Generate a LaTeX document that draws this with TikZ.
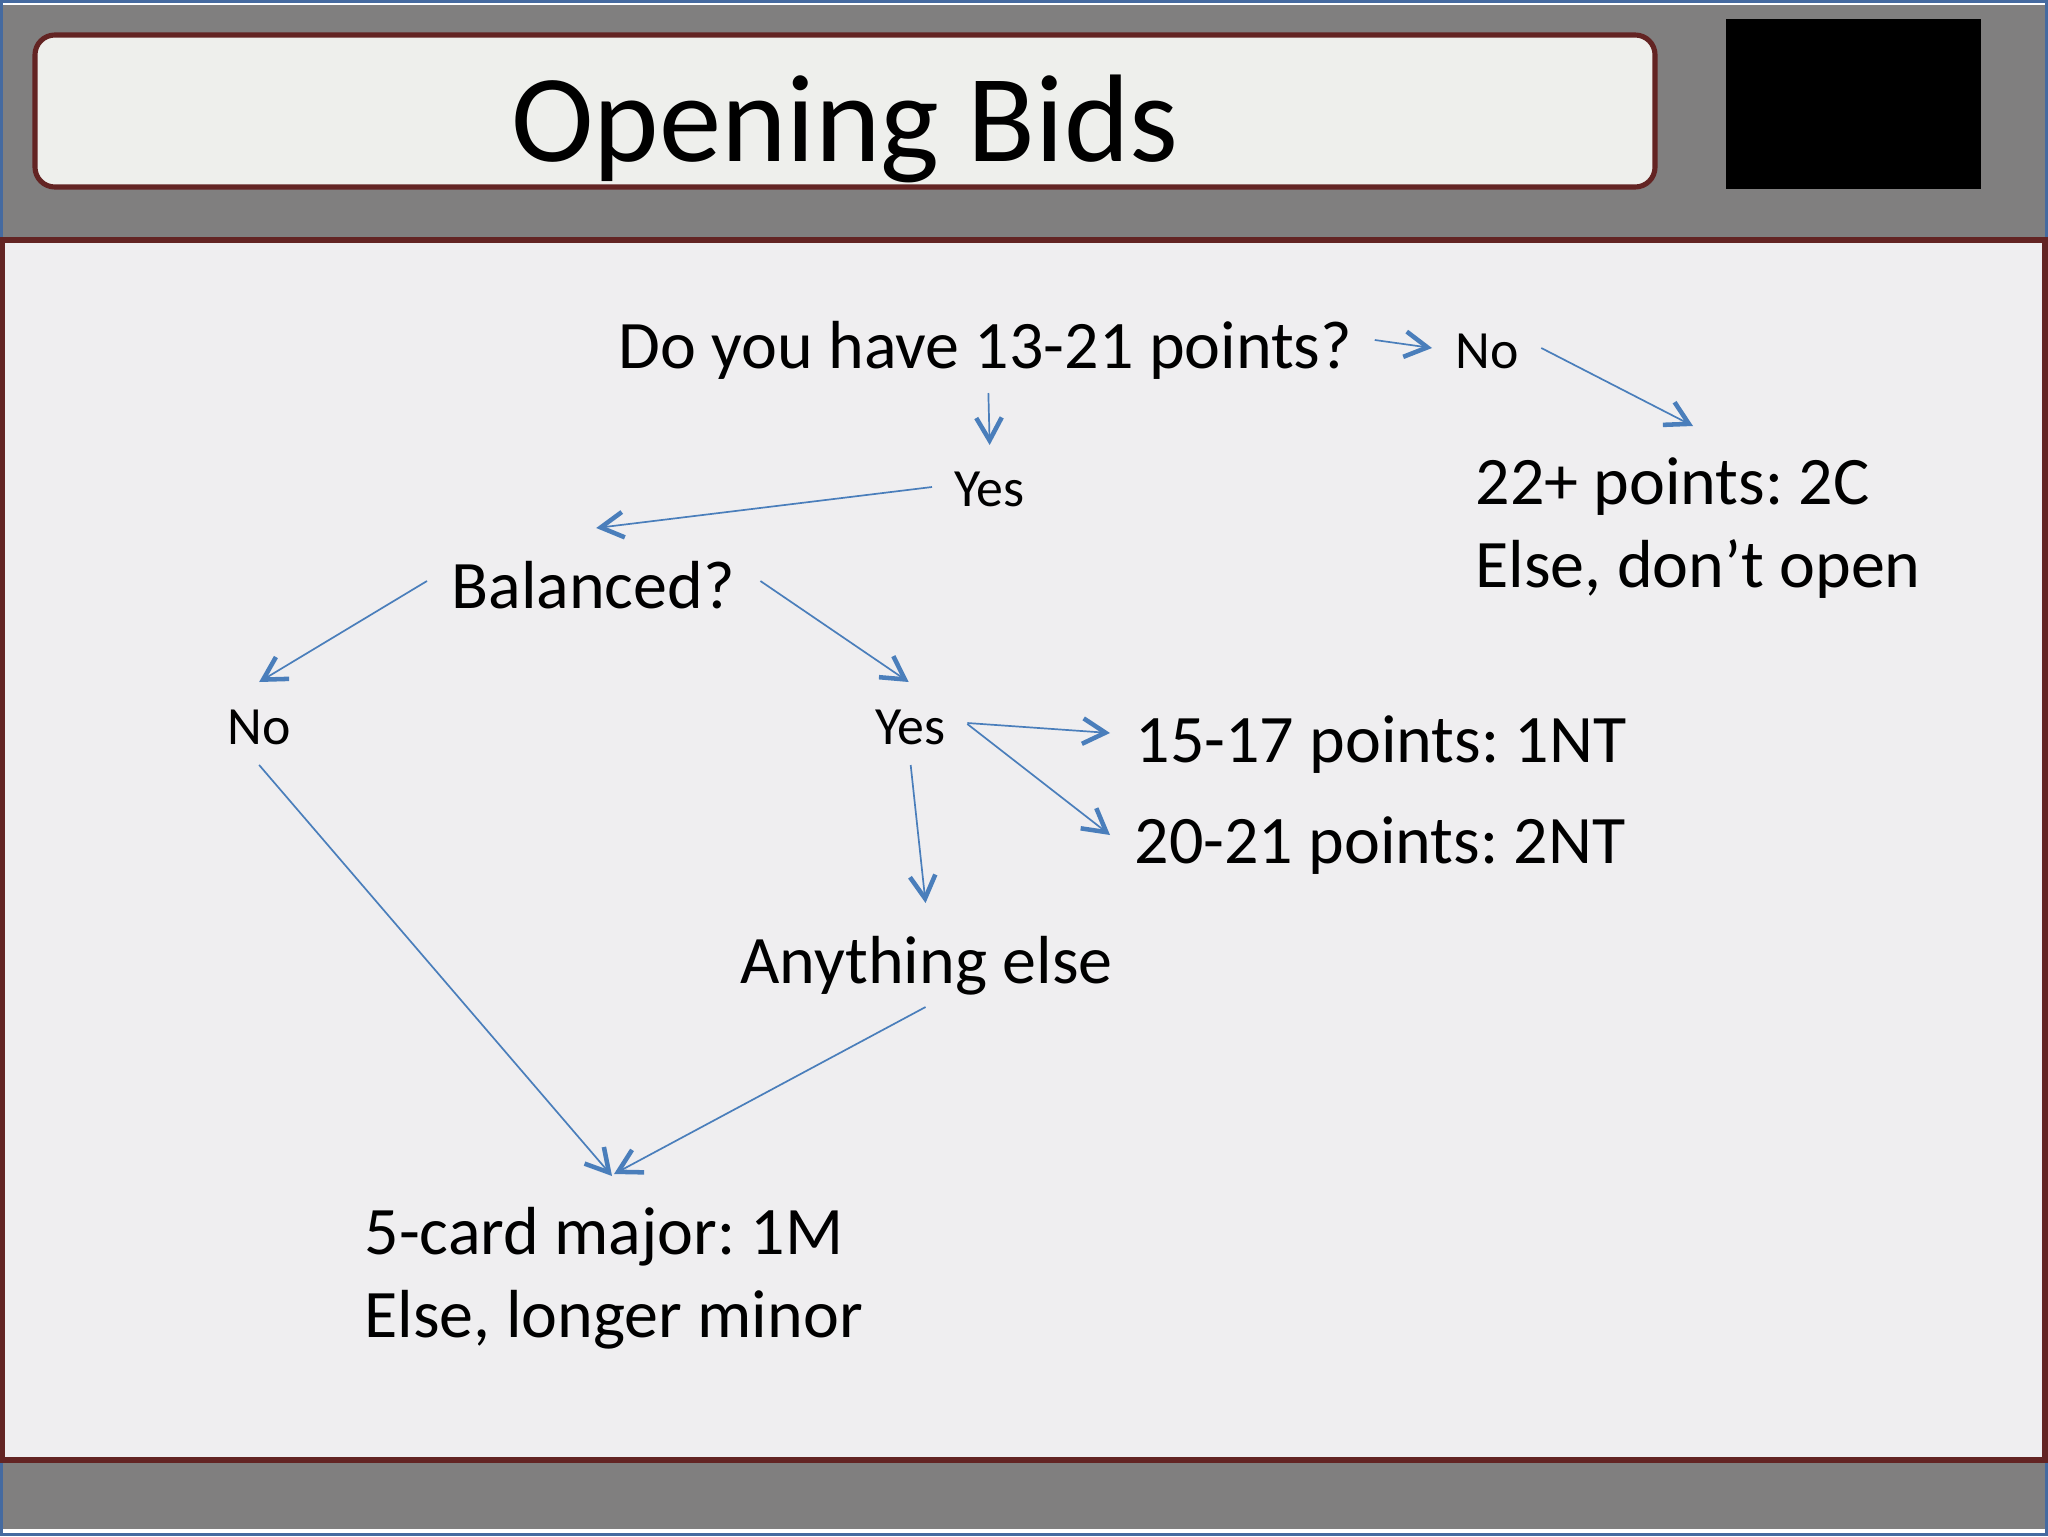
\documentclass[tikz,border=0pt]{standalone}
\usepackage{fontspec}
\setmainfont{Carlito}
\frenchspacing
\usepackage{tikz}
\usetikzlibrary{calc,arrows.meta}

\definecolor{slidegray}{RGB}{128,127,127}
\definecolor{bandred}{RGB}{99,36,35}
\definecolor{frameblue}{RGB}{69,106,160}
\definecolor{boxfill}{RGB}{238,239,236}
\definecolor{pagefill}{RGB}{239,238,240}
\definecolor{arrowblue}{RGB}{74,126,187}

\tikzset{
	bigtext/.style={font=\fontsize{24}{29}\selectfont, inner sep=0pt, anchor=base west},
	smalltext/.style={font=\fontsize{19}{23}\selectfont, inner sep=0pt, anchor=base west},
	arr/.style={draw=arrowblue, line width=0.6pt, -{Straight Barb[length=8pt,width=9pt,line width=1.6pt]}}
}

\begin{document}
\begin{tikzpicture}[x=0.0124023cm, y=-0.0124023cm]
		\useasboundingbox (0,0) rectangle (2048,1536);
		\fill[white] (0,0) rectangle (2048,1536);
		\draw[frameblue, line width=1pt] (1.5,1.5) rectangle (2046.5,1534.5);
		\fill[slidegray] (3,5) rectangle (2045,1529);
		\filldraw[fill=pagefill, draw=bandred, line width=1.8pt] (2,240) rectangle (2045,1460);
		
		% title bar
		\filldraw[fill=boxfill, draw=bandred, line width=1.8pt, rounded corners=7pt] (35,35) rectangle (1655,187);
		\fill[black] (1726,19) rectangle (1981,189);
		\node[font=\fontsize{44}{53}\selectfont, inner sep=0pt, anchor=base] (title) at (845,161) {Opening Bids};
		
		% questions and answers
		\node[bigtext] (q) at (618,368) {Do you have 13-21 points?};
		\node[smalltext] (noA) at (1455,368) {No};
		\node[smalltext] (yesA) at (954,506) {Yes};
		\node[bigtext, align=left] (big) at (1475,587) {22+ points: 2C\\Else, don’t open};
		\node[bigtext] (bal) at (451,608) {Balanced?};
		\node[smalltext] (noB) at (227,744) {No};
		\node[smalltext] (yesB) at (875,744) {Yes};
		\node[bigtext] (nt1) at (1135,762) {15-17 points: 1NT};
		\node[bigtext] (nt2) at (1134,863) {20-21 points: 2NT};
		\node[bigtext] (other) at (740,983) {Anything else};
		\node[bigtext, align=left] (major) at (364,1337) {5-card major: 1M\\Else, longer minor};
		
		% arrows
		\draw[arr] ($(q.base east)+(22,-28)$) -- ($(noA.base west)+(-23,-20)$);
		\draw[arr] ($(noA.base east)+(22,-20)$) -- ($(big.base west)+(218,-161)$);
		\draw[arr] ($(q.base)+(3,25)$) -- ($(yesA.base)+(0,-61)$);
		\draw[arr] ($(yesA.base west)+(-22,-19)$) -- ($(bal.base)+(3,-80)$);
		\draw[arr] ($(bal.base west)+(-24,-27)$) -- ($(noB.base)+(0,-62)$);
		\draw[arr] ($(bal.base east)+(25,-27)$) -- ($(yesB.base)+(-2,-62)$);
		\draw[arr] ($(yesB.base east)+(21,-21)$) -- ($(nt1.base west)+(-25,-29)$);
		\draw[arr] ($(yesB.base east)+(21,-20)$) -- ($(nt2.base west)+(-24,-28)$);
		\draw[arr] ($(yesB.base)+(0,21)$) -- ($(other.base)+(-1,-80)$);
		\draw[arr] ($(noB.base)+(0,21)$) -- ($(major.base west)+(248,-161)$);
		\draw[arr] ($(other.base)+(-1,24)$) -- ($(major.base west)+(250,-163)$);
	\end{tikzpicture}
\end{document}
